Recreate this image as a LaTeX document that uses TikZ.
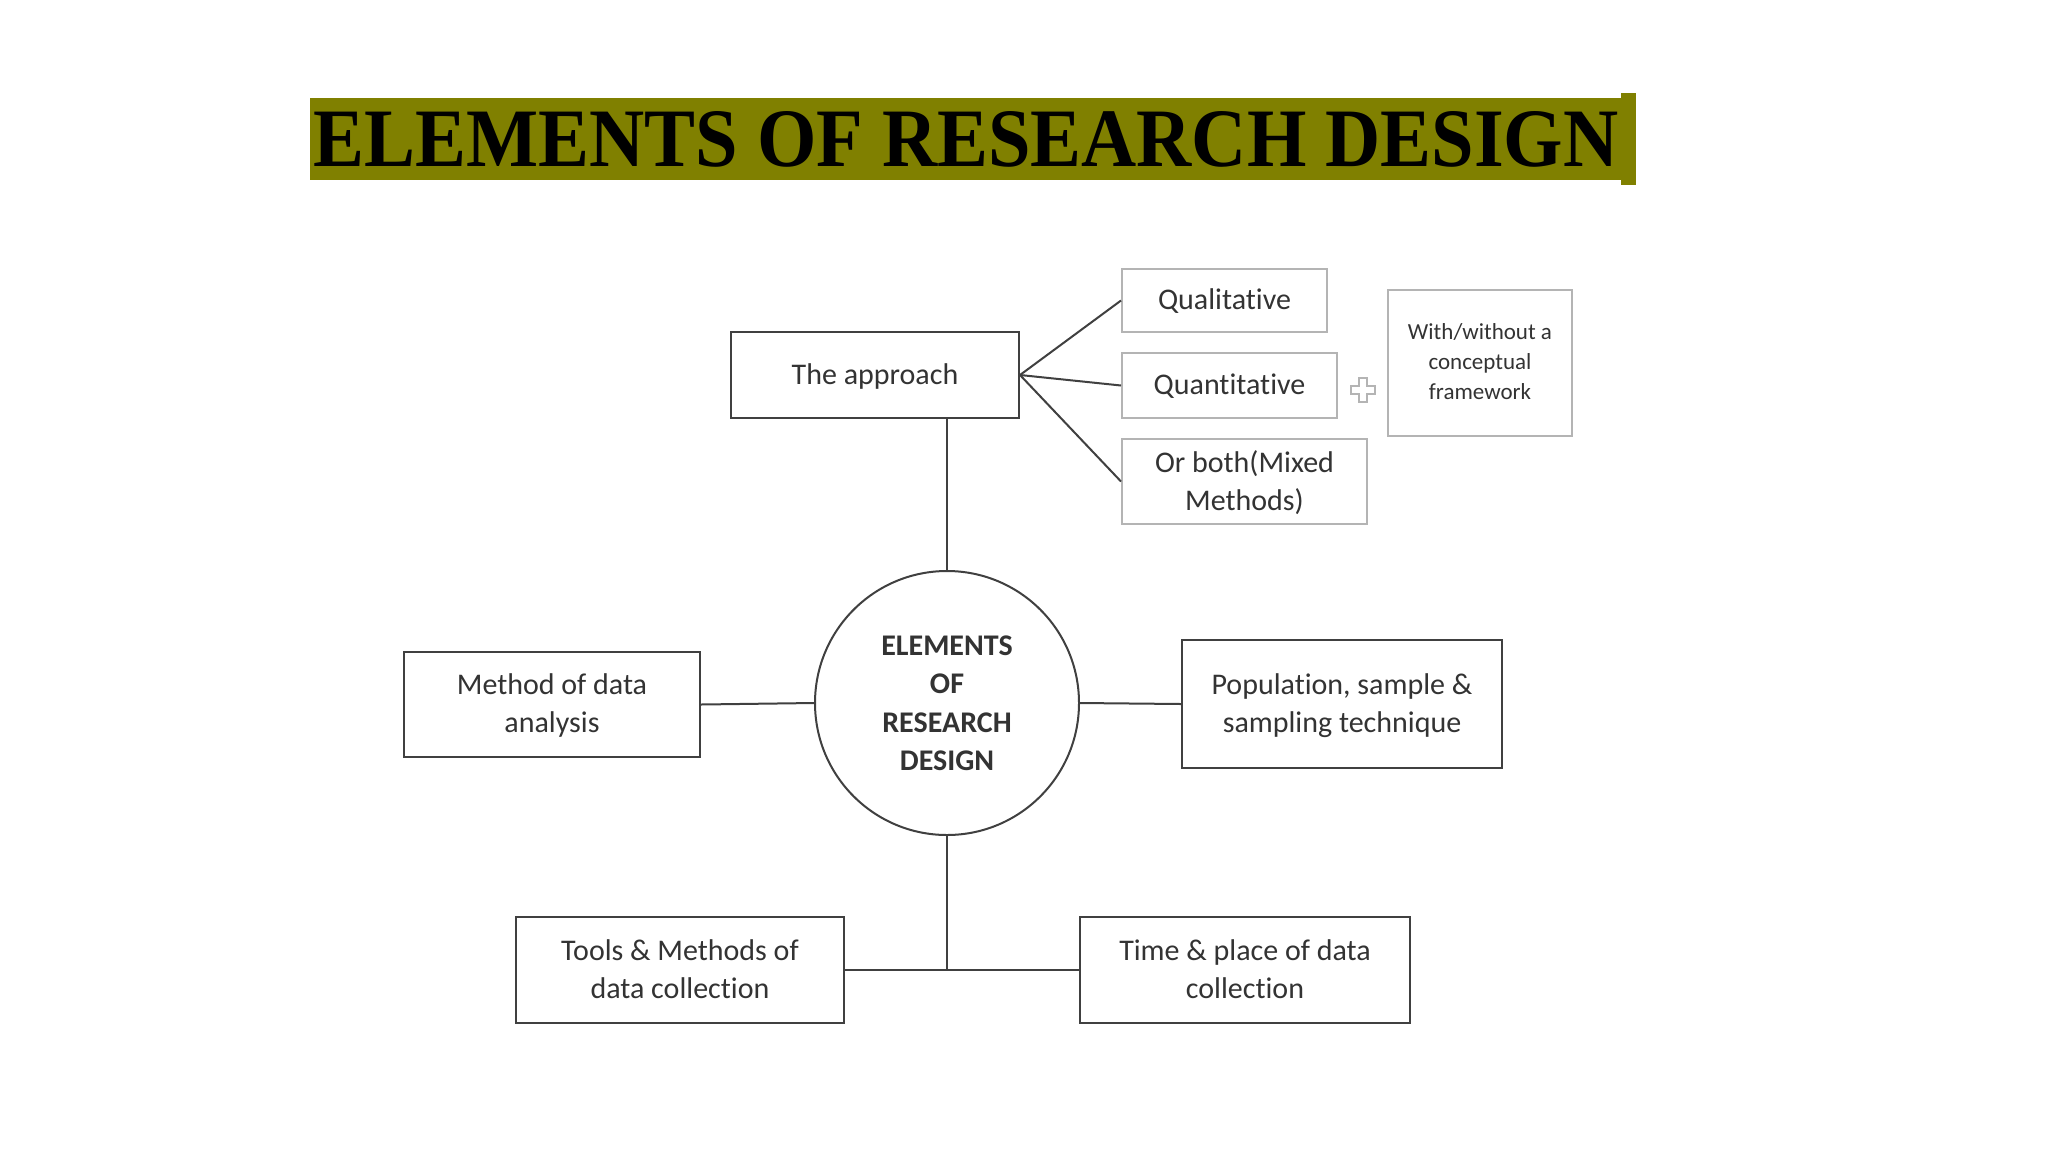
\documentclass[tikz,border=0pt]{standalone}
\usepackage{fontspec}
\setmainfont{Carlito}[Ligatures=NoCommon]
\newfontfamily\titlefont{Liberation Serif}
\definecolor{olivebar}{HTML}{808000}
\definecolor{txt}{HTML}{333333}
\definecolor{edge}{HTML}{404040}
\definecolor{lightedge}{HTML}{B4B4B4}
\begin{document}
\begin{tikzpicture}[x=1pt,y=-1pt,
  mainbox/.style={draw=edge, line width=2pt, rectangle, align=center, text=txt, font=\fontsize{30}{38}\selectfont, inner sep=0pt, text depth=2pt},
  subbox/.style={draw=lightedge, line width=2pt, rectangle, align=center, text=txt, font=\fontsize{30}{38}\selectfont, inner sep=0pt, text depth=2pt},
  conn/.style={draw=edge, line width=2pt}]
\useasboundingbox[fill=white] (0,0) rectangle (2048,1152);
% title
\fill[olivebar] (1621,93) rectangle (1636,185);
\node[fill=olivebar, minimum width=1312pt, minimum height=82pt, inner sep=0pt] (title) at (966,139)
  {\resizebox{1304pt}{55pt}{\titlefont\bfseries ELEMENTS OF RESEARCH DESIGN}};
% nodes
\node[mainbox, minimum width=288pt, minimum height=86pt] (appr) at (875,375) {The approach};
\node[subbox, minimum width=205pt, minimum height=63pt] (qual) at (1224.5,300.5) {Qualitative};
\node[subbox, minimum width=215pt, minimum height=65pt] (quan) at (1229.5,385.5) {Quantitative};
\node[subbox, minimum width=245pt, minimum height=85pt] (mix) at (1244.5,481.5) {Or both(Mixed\\Methods)};
\node[subbox, minimum width=184pt, minimum height=146pt, font=\fontsize{23}{30}\selectfont] (frame) at (1480,363) {With/without a\\conceptual\\framework};
\node[draw=edge, line width=2pt, circle, minimum size=264pt, inner sep=0pt, align=center, text=txt, text depth=-12pt, font=\fontsize{30}{38.5}\selectfont\bfseries] (core) at (947,703) {ELEMENTS\\OF\\RESEARCH\\DESIGN};
\node[mainbox, minimum width=296pt, minimum height=105pt] (meth) at (552,704.5) {Method of data\\analysis};
\node[mainbox, minimum width=320pt, minimum height=128pt] (pop) at (1342,704) {Population, sample \&\\sampling technique};
\node[mainbox, minimum width=328pt, minimum height=106pt] (tools) at (680,970) {Tools \& Methods of\\data collection};
\node[mainbox, minimum width=330pt, minimum height=106pt] (time) at (1245,970) {Time \& place of data\\collection};
\coordinate (junc) at (947,970);
% plus sign
\draw[lightedge, line width=1.5pt, fill=white, shift={(1363,390)}]
  (-4,-12) -- (4,-12) -- (4,-4) -- (12,-4) -- (12,4) -- (4,4) -- (4,12) -- (-4,12) -- (-4,4) -- (-12,4) -- (-12,-4) -- (-4,-4) -- cycle;
% connectors
\draw[conn] (appr.east) -- (qual.west);
\draw[conn] (appr.east) -- (quan.west);
\draw[conn] (appr.east) -- (mix.west);
\draw[conn] (appr.south -| core.north) -- (core.north);
\draw[conn] (meth.east) -- (core.west);
\draw[conn] (core.east) -- (pop.west);
\draw[conn] (core.south) -- (junc);
\draw[conn] (tools.east) -- (time.west);
\end{tikzpicture}
\end{document}
